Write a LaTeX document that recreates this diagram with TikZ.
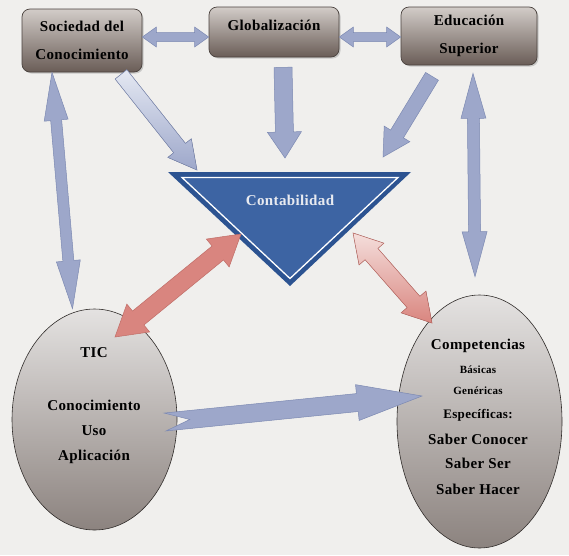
\documentclass[tikz,border=0pt]{standalone}
\usepackage{fontspec}
\setmainfont{Liberation Serif}[LetterSpace=2.5]
\usetikzlibrary{calc,shadows,shapes.geometric,positioning}

\definecolor{paper}{HTML}{F0EFED}
\definecolor{boxtop}{HTML}{D2CCC8}
\definecolor{boxbot}{HTML}{6A5D57}
\definecolor{boxedge}{HTML}{4A423E}
\definecolor{ovaltop}{HTML}{E4E2E1}
\definecolor{ovalbot}{HTML}{8C837F}
\definecolor{ovaledge}{HTML}{302C2A}
\definecolor{contdark}{HTML}{2C5391}
\definecolor{contblue}{HTML}{3D64A3}
\definecolor{contfont}{HTML}{E8EAF0}
\definecolor{arrowblue}{HTML}{9DA7CA}
\definecolor{arrowedge}{HTML}{7C89B2}
\definecolor{arrowpale}{HTML}{E4E8F2}
\definecolor{redfill}{HTML}{D9857F}
\definecolor{rededge}{HTML}{C06D67}
\definecolor{redpale}{HTML}{F4DEDB}

\tikzset{
  topbox/.style={draw=boxedge, line width=0.7pt, rounded corners=8pt,
    top color=boxtop, bottom color=boxbot, inner sep=0pt, align=center,
    drop shadow={shadow xshift=1.5pt, shadow yshift=-1.5pt, opacity=0.35},
    font=\bfseries\fontsize{15pt}{28pt}\selectfont},
  oval/.style={ellipse, draw=ovaledge, line width=0.6pt, inner sep=0pt,
    top color=ovaltop, bottom color=ovalbot},
  ovaltext/.style={align=center, inner sep=0pt,
    font=\bfseries\fontsize{15pt}{25pt}\selectfont},
  conttext/.style={text=contfont, font=\bfseries\fontsize{15pt}{18pt}\selectfont},
  bluearrow/.style={fill=arrowblue, draw=arrowedge, line width=0.5pt},
  palearrow/.style={top color=arrowpale, bottom color=arrowblue, draw=arrowedge, line width=0.5pt},
  redarrow/.style={fill=redfill, draw=rededge, line width=0.5pt},
  pinkarrow/.style={top color=redpale, bottom color=redfill, draw=rededge, line width=0.5pt}
}

% block arrow: style, from, to, shaft half width, head half width, head length, tail notch
\newcommand{\blockarrow}[7]{%
  \coordinate (hb) at ($(#3)!#6!(#2)$);
  \coordinate (nt) at ($(#2)!#7!(#3)$);
  \filldraw[#1] ($(#2)!#4!90:(#3)$) -- ($(hb)!#4!-90:(#2)$) -- ($(hb)!#5!-90:(#2)$) -- (#3)
    -- ($(hb)!#5!90:(#2)$) -- ($(hb)!#4!90:(#2)$) -- ($(#2)!#4!-90:(#3)$) -- (nt) -- cycle;
}
% double block arrow: style, from, to, shaft half width, head half width, head length
\newcommand{\twinarrow}[6]{%
  \coordinate (ha) at ($(#2)!#6!(#3)$);
  \coordinate (hb) at ($(#3)!#6!(#2)$);
  \filldraw[#1] (#2) -- ($(ha)!#5!90:(#3)$) -- ($(ha)!#4!90:(#3)$) -- ($(hb)!#4!-90:(#2)$)
    -- ($(hb)!#5!-90:(#2)$) -- (#3) -- ($(hb)!#5!90:(#2)$) -- ($(hb)!#4!90:(#2)$)
    -- ($(ha)!#4!-90:(#3)$) -- ($(ha)!#5!-90:(#3)$) -- cycle;
}

\begin{document}
\begin{tikzpicture}[x=1pt,y=-1pt]
    % paper
    \fill[paper] (0,0) rectangle (569,555);
    \useasboundingbox (0,0) rectangle (569,555);

    % top row
    \node[topbox, minimum width=120pt, minimum height=63pt] (soc) at (82,40.5) {Sociedad del\\Conocimiento};
    \node[topbox, minimum width=130pt, minimum height=50pt, text depth=14pt] (glob) at (274,32) {Globalización};
    \node[topbox, minimum width=136pt, minimum height=58pt] (edu) at (469,36) {Educación\\Superior};

    % ovals
    \node[oval, minimum width=165pt, minimum height=221pt] (tic) at (94.5,419.5) {};
    \node[ovaltext] (tictxt) at (94,406) {TIC\\[28pt]Conocimiento\\Uso\\Aplicación};
    \node[oval, minimum width=165pt, minimum height=253pt] (comp) at (479.5,421.5) {};
    \node[ovaltext, font=\bfseries\fontsize{15pt}{24pt}\selectfont] (comptxt) at (478,417)
      {Competencias\\{\fontsize{11pt}{24pt}\selectfont Básicas}\\[-3pt]{\fontsize{11pt}{24pt}\selectfont Genéricas}\\{\fontsize{13pt}{24pt}\selectfont Específicas:}\\[1.5pt]Saber Conocer\\Saber Ser\\[2pt]Saber Hacer};

    % Contabilidad
    \coordinate (tl) at (168,172);
    \coordinate (tr) at (411,172);
    \coordinate (tb) at (290,286);
    \fill[contdark] (tl) -- (tr) -- (tb) -- cycle;
    \filldraw[fill=contblue, draw=white, line width=1.3pt] (182,177.5) -- (398,177.5) -- (290,278.5) -- cycle;
    \node[conttext] (cont) at (290,200) {Contabilidad};

    % arrow ends
    \coordinate (sgA) at ([yshift=3.5pt]soc.east);
    \coordinate (sgB) at ([yshift=-5pt]glob.west);
    \coordinate (geA) at ([yshift=-5pt]glob.east);
    \coordinate (geB) at ([yshift=-1pt]edu.west);
    \coordinate (stA) at ([xshift=-30pt]soc.south);
    \coordinate (stB) at ([xshift=-22pt]tic.north);
    \coordinate (ecA) at ([shift={(4pt,-8pt)}]edu.south);
    \coordinate (ecB) at ([shift={(-4.5pt,18pt)}]comp.north);
    \coordinate (scA) at ([shift={(39pt,-2pt)}]soc.south);
    \coordinate (scB) at (197,170);
    \coordinate (gcA) at ([shift={(9pt,-10pt)}]glob.south);
    \coordinate (gcB) at (285,158);
    \coordinate (ucA) at ([shift={(-37pt,-11pt)}]edu.south);
    \coordinate (ucB) at (383,157);
    \coordinate (rlA) at (115,337);
    \coordinate (rlB) at (241,234);
    \coordinate (rrA) at (353,233);
    \coordinate (rrB) at (432,323);
    \coordinate (tcA) at (165,422);
    \coordinate (tcB) at (422,396);

    % arrows
    \twinarrow{bluearrow}{sgA}{sgB}{4.5pt}{10pt}{14pt}
    \twinarrow{bluearrow}{geA}{geB}{4.5pt}{10pt}{14pt}
    \twinarrow{bluearrow}{stA}{stB}{5.5pt}{12pt}{48pt}
    \twinarrow{bluearrow}{ecA}{ecB}{6pt}{12.5pt}{45pt}
    \blockarrow{palearrow}{scA}{scB}{7.5pt}{15pt}{28pt}{0pt}
    \blockarrow{bluearrow}{gcA}{gcB}{9pt}{17pt}{26pt}{0pt}
    \blockarrow{bluearrow}{ucA}{ucB}{7.5pt}{15pt}{27pt}{0pt}
    \twinarrow{redarrow}{rlA}{rlB}{9pt}{18pt}{30pt}
    \twinarrow{pinkarrow}{rrA}{rrB}{8.5pt}{16.5pt}{28pt}
    \blockarrow{bluearrow}{tcA}{tcB}{9pt}{18pt}{65pt}{25pt}
\end{tikzpicture}
\end{document}
